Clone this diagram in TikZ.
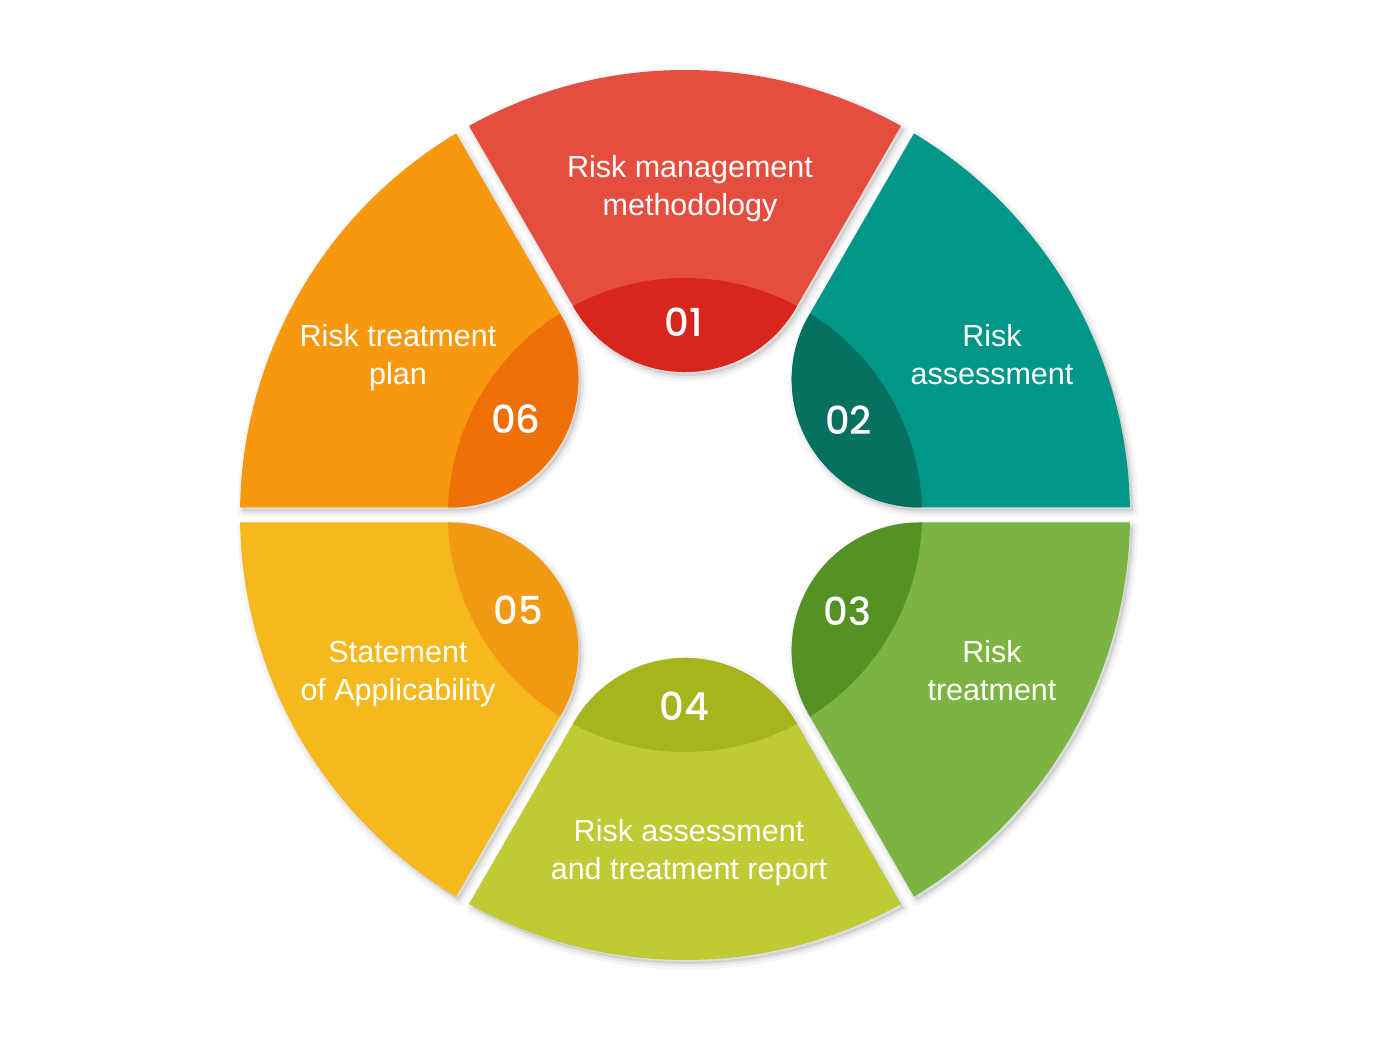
\documentclass[tikz,border=0pt]{standalone}
\usepackage{fontspec}
\setmainfont{Liberation Sans}
\newfontfamily\numfont{Poppins Medium}
\definecolor{redL}{HTML}{E54D3E}
\definecolor{redD}{HTML}{D8261E}
\definecolor{tealL}{HTML}{009688}
\definecolor{tealD}{HTML}{087060}
\definecolor{grnL}{HTML}{7CB444}
\definecolor{grnD}{HTML}{549226}
\definecolor{limeL}{HTML}{C0CA34}
\definecolor{limeD}{HTML}{A6B41E}
\definecolor{yelL}{HTML}{F5B91E}
\definecolor{yelD}{HTML}{F29A14}
\definecolor{orL}{HTML}{F7980E}
\definecolor{orD}{HTML}{F07008}
\newcommand\segpath{(207pt,110.85pt) -- (29.034:445pt) arc[start angle=29.034, end angle=-29.034, radius=445pt] -- (207pt,-110.85pt) arc[start angle=240, end angle=120, radius=128pt] -- cycle}
\newcommand\segshadow[1]{%
  \begin{scope}[shift={(3pt,-4pt)},rotate=#1]
    \fill[black,opacity=.09] \segpath;
    \draw[black,opacity=.04,line width=11pt,line join=round] \segpath;
    \draw[black,opacity=.05,line width=5pt,line join=round] \segpath;
  \end{scope}}
\newcommand\segment[3]{%
  \begin{scope}[rotate=#1]
    \fill[#2] \segpath;
    \begin{scope}
      \clip \segpath;
      \fill[#3] (0,0) circle[radius=237pt];
    \end{scope}
  \end{scope}}
\tikzset{
  lbl/.style={text=white, align=center, inner sep=0pt, font=\fontsize{30.5}{38}\selectfont},
  num/.style={text=white, inner sep=0pt, font=\numfont\fontsize{38.5}{40}\selectfont}
}
\begin{document}
\begin{tikzpicture}[x=1pt,y=1pt]
\fill[white] (-685,-549) rectangle (692,515);
\useasboundingbox (-685,-549) rectangle (692,515);
% shadows
\segshadow{90}\segshadow{30}\segshadow{-30}\segshadow{-90}\segshadow{210}\segshadow{150}
% segments
\segment{90}{redL}{redD}
\segment{30}{tealL}{tealD}
\segment{-30}{grnL}{grnD}
\segment{-90}{limeL}{limeD}
\segment{210}{yelL}{yelD}
\segment{150}{orL}{orD}
% labels
\node[lbl] (l1) at (5,326) {Risk management\\methodology};
\node[lbl] (l2) at (307,160) {Risk\\assessment};
\node[lbl] (l3) at (307,-156) {Risk\\treatment};
\node[lbl] (l4) at (4,-338) {Risk assessment\\and treatment report};
\node[lbl] (l5) at (-287,-159) {Statement\\of Applicability};
\node[lbl] (l6) at (-287,157) {Risk treatment\\plan};
% numbers
\node[num] (n1) at (-1.5,192.5) {01};
\node[num] (n2) at (163.5,95) {02};
\node[num] (n3) at (162.5,-96) {03};
\node[num] (n4) at (-0.5,-191.5) {04};
\node[num] (n5) at (-167,-95) {05};
\node[num] (n6) at (-169,95.5) {06};
\end{tikzpicture}
\end{document}
